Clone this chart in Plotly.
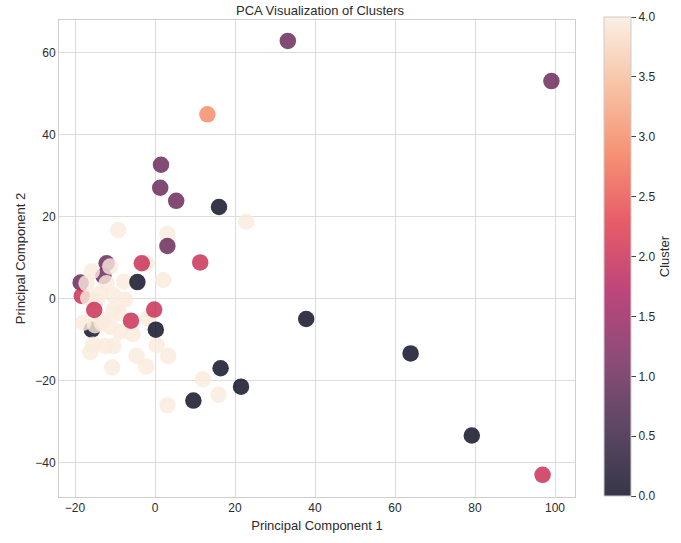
import plotly.graph_objects as go

# Data
pc1 = [-15.8, -12.1, -12.9, -18.6, -18.3,
       22.8, 3.1, -9.2, 2.1, -2.1, -11.2, -17.1, -15.8, -7.7, -16.7, -13.7, -12.1,
       -10.4, -7.5, -10.4, -12.9, -1.7, -17.9, -13.3, -11.2, -8.7, -5.6, -15.4,
       -12.5, -10.4, -16.2, -4.6, -2.2, -10.7, 0.4, 3.3, 12.0, 15.9, 3.1, -14.5, -9.0, -15.0,
       16.0, 37.8, 63.9, 79.2, 16.4, 21.5, 9.6, 0.2, -4.4,
       33.2, 99.1, 1.5, 1.3, 5.3, 3.1,
       11.3, -3.3, -15.2, -0.2, -6.0, 96.9,
       13.1]
pc2 = [-7.5, 8.7, 5.6, 4.0, 0.7,
       18.8, 15.8, 16.8, 4.6, 8.7, 7.9, 3.8, 6.7, 4.2, 0.2, 1.4, 3.8,
       1.0, -0.2, -2.7, -5.1, -4.7, -5.8, -5.9, -6.8, -8.0, -8.6, -11.2,
       -11.5, -11.5, -13.0, -13.9, -16.5, -16.7, -11.3, -13.9, -19.6, -23.4, -25.9, -0.5, -3.5, -6.4,
       22.4, -4.9, -13.3, -33.3, -16.9, -21.4, -24.8, -7.5, 4.1,
       62.9, 53.1, 32.7, 27.1, 23.9, 12.9,
       8.9, 8.7, -2.7, -2.6, -5.3, -42.9,
       45.0]
cluster = [0, 1, 1, 1, 2,
           4, 4, 4, 4, 4, 4, 4, 4, 4, 4, 4, 4,
           4, 4, 4, 4, 4, 4, 4, 4, 4, 4, 4,
           4, 4, 4, 4, 4, 4, 4, 4, 4, 4, 4, 4, 4, 4,
           0, 0, 0, 0, 0, 0, 0, 0, 0,
           1, 1, 1, 1, 1, 1,
           2, 2, 2, 2, 2, 2,
           3]

cbar_ticks = [0.0, 0.5, 1.0, 1.5, 2.0, 2.5, 3.0, 3.5, 4.0]

# seaborn "rocket" colormap, alpha 0.8
rocket = ["#03051a", "#35193e", "#701f57", "#ad1759", "#e13342", "#f37651", "#f6b48f", "#faebdd"]


def rgba(h, a=0.8):
    h = h.lstrip("#")
    return "rgba(%d,%d,%d,%.2f)" % (int(h[0:2], 16), int(h[2:4], 16), int(h[4:6], 16), a)


colorscale = [[i / (len(rocket) - 1), rgba(c)] for i, c in enumerate(rocket)]

font = "Liberation Sans, Arial, sans-serif"
txt = "#2b2b2b"
grid = "#dcdcdc"

fig = go.Figure(go.Scatter(
    x=pc1, y=pc2, mode="markers",
    marker=dict(
        size=16.5, color=cluster, colorscale=colorscale, cmin=0, cmax=4,
        line=dict(width=0),
        colorbar=dict(
            title=dict(text="Cluster", side="right", font=dict(size=13, color=txt, family=font)),
            tickvals=cbar_ticks, ticktext=["%.1f" % t for t in cbar_ticks],
            ticks="outside", ticklen=5, tickcolor="#444444", tickwidth=1,
            tickfont=dict(size=12, color=txt, family=font),
            thickness=27, lenmode="pixels", len=479,
            x=1.056, xanchor="left", y=0.504, yanchor="middle",
            xpad=0, ypad=0,
            outlinecolor="#cccccc", outlinewidth=1,
        ),
    ),
    showlegend=False,
))

fig.update_layout(
    width=681, height=543,
    margin=dict(l=59, r=106, t=20, b=46, autoexpand=False),
    paper_bgcolor="white", plot_bgcolor="white",
    font=dict(family=font, color=txt, size=12),
    title=dict(text="PCA Visualization of Clusters", x=0.47, xanchor="center",
               y=1 - 10 / 543, yanchor="middle", font=dict(size=13, color=txt, family=font)),
    xaxis=dict(
        title=dict(text="Principal Component 1", font=dict(size=13), standoff=6),
        range=[-24, 105], tickvals=[-20, 0, 20, 40, 60, 80, 100],
        showgrid=True, gridcolor=grid, gridwidth=1, zeroline=False,
        showline=True, linecolor="#cfcfcf", linewidth=1, mirror=True, ticks="",
        tickfont=dict(size=12),
    ),
    yaxis=dict(
        title=dict(text="Principal Component 2", font=dict(size=13), standoff=6),
        range=[-48.3, 68], tickvals=[-40, -20, 0, 20, 40, 60],
        showgrid=True, gridcolor=grid, gridwidth=1, zeroline=False,
        showline=True, linecolor="#cfcfcf", linewidth=1, mirror=True, ticks="",
        tickfont=dict(size=12),
    ),
)

fig.write_html("out.html")
